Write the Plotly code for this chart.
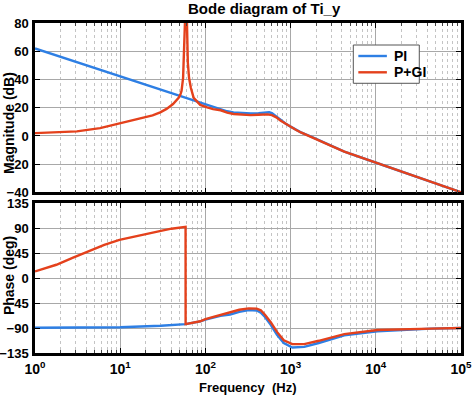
import plotly.graph_objects as go

# ---- data ----
# Magnitude, PI controller
pi_mag_f = [1, 2, 5, 10, 20, 50, 100, 130, 151, 180, 214, 270, 340, 420, 500, 560, 603, 680, 760,
            870, 1000, 1150, 1320, 1740, 2950, 4270, 10500, 31000, 100000]
pi_mag_db = [62, 56, 48, 42.2, 36.2, 28.2, 22.4, 20.0, 18.7, 17.5, 16.7, 16.2, 16.0, 16.2, 16.6, 16.8, 16.2, 13.8, 11.3,
             8.9, 6.6, 4.5, 2.6, -0.5, -6.8, -11, -19.3, -29.4, -39.8]

# Magnitude, P+GI controller
pgi_mag_f = [1, 1.78, 3.1, 5.8, 10, 14, 18.6, 24, 29.5, 35, 41.7, 45.5, 48.5, 51, 52.5, 54.7, 56.0, 57.1, 58.4, 59.2,
             59.8, 60.5, 61.2, 62.2, 64.3, 67.6, 72.8, 80, 87, 105, 123, 151, 180, 214, 270, 339, 420, 537, 603, 680,
             759, 870, 1000, 1150, 1320, 1740, 2950, 4270, 10500, 31000, 100000]
pgi_mag_db = [2.0, 2.4, 3.3, 5.6, 8.9, 10.8, 12.7, 14.6, 16.7, 19.2, 22.6, 24.8, 27, 29.5, 32, 41, 52, 65, 85, 110,
              110, 85, 65, 52, 41, 34, 27, 24, 22, 20.3, 19.0, 18.2, 16.6, 15.6, 15.0, 14.8, 15.0, 15.3, 14.8, 13.2,
              11.0, 8.7, 6.4, 4.4, 2.5, -0.5, -6.8, -11, -19.3, -29.4, -39.8]

# Phase, PI controller
pi_ph_f = [1, 3, 10, 30, 58.6, 87, 100, 150, 195, 250, 323, 400, 447, 500, 582, 692, 832, 1047, 1445, 2138,
           4266, 10470, 44700, 100000]
pi_ph_deg = [-89.5, -89.2, -88.5, -86, -83, -78, -75, -68, -65.6, -61, -57.7, -58.5, -62.4, -70, -83.8, -102, -117,
             -125, -124, -117, -103, -96, -91, -90]

# Phase, P+GI controller
pgi_ph_f = [1, 1.78, 2.8, 4.4, 6.5, 9.8, 14.5, 21.9, 30, 40, 53.7, 58.5, 58.6, 70, 87, 100, 150, 195, 250, 323,
            400, 447, 500, 582, 692, 832, 1047, 1445, 2138, 4266, 10470, 44700, 100000]
pgi_ph_deg = [12, 24, 37, 50, 60, 69, 75, 80, 85, 89, 92, 92.5, -83, -81, -77.8, -74, -66, -61, -57, -54.6,
              -55, -58, -66, -79, -97, -112, -119, -119, -113, -101, -93.6, -91, -90]

series_names = ["PI", "P+GI"]
x_tick_vals = [1, 10, 100, 1000, 10000, 100000]
x_tick_text = ["10<sup>0</sup>", "10<sup>1</sup>", "10<sup>2</sup>", "10<sup>3</sup>",
               "10<sup>4</sup>", "10<sup>5</sup>"]
x_minor_vals = [m * 10 ** d for d in range(5) for m in range(2, 10)]
mag_ticks = [80, 60, 40, 20, 0, -20, -40]
ph_ticks = [135, 90, 45, 0, -45, -90, -135]

BLUE = "#2e7fe4"
RED = "#e4411c"
FONT = "Liberation Sans Narrow, Arial Narrow, Liberation Sans, Arial, sans-serif"

fig = go.Figure()
fig.add_trace(go.Scatter(x=pi_mag_f, y=pi_mag_db, mode="lines", name=series_names[0],
                         line=dict(color=BLUE, width=2.4), xaxis="x", yaxis="y"))
fig.add_trace(go.Scatter(x=pgi_mag_f, y=pgi_mag_db, mode="lines", name=series_names[1],
                         line=dict(color=RED, width=2.4), xaxis="x", yaxis="y"))
fig.add_trace(go.Scatter(x=pi_ph_f, y=pi_ph_deg, mode="lines", name=series_names[0],
                         line=dict(color=BLUE, width=2.4), xaxis="x2", yaxis="y2"))
fig.add_trace(go.Scatter(x=pgi_ph_f, y=pgi_ph_deg, mode="lines", name=series_names[1],
                         line=dict(color=RED, width=2.4), xaxis="x2", yaxis="y2"))

common_x = dict(type="log", range=[0, 5], showline=True, linecolor="black", linewidth=2.5, mirror="ticks",
                ticks="inside", ticklen=5, tickcolor="black", tickwidth=1, automargin=False,
                tickvals=x_tick_vals, ticktext=x_tick_text,
                showgrid=True, gridcolor="#a8a8a8", gridwidth=1,
                minor=dict(tickvals=x_minor_vals, ticks="inside", ticklen=3, tickcolor="#444",
                           showgrid=True, gridcolor="#c4c4c4", griddash="dot", gridwidth=1),
                zeroline=False, fixedrange=True,
                tickfont=dict(family=FONT, size=14, color="black", weight="bold"))
common_y = dict(showline=True, linecolor="black", linewidth=2.5, mirror="ticks", automargin=False,
                ticks="inside", ticklen=5, tickcolor="black", showgrid=True, gridcolor="#a8a8a8",
                gridwidth=1, zeroline=False, ticklabelstandoff=1, fixedrange=True,
                tickfont=dict(family=FONT, size=13, color="black", weight="bold"))

# legend drawn as a compact MATLAB-style box (paper coordinates)
LEG_X0, LEG_X1, LEG_Y0, LEG_Y1 = 0.7472, 0.9021, 0.8173, 0.9333
LEG_ROWS = [0.9, 0.8506]
legend_shapes = [dict(type="rect", xref="paper", yref="paper", x0=LEG_X0, x1=LEG_X1, y0=LEG_Y0, y1=LEG_Y1,
                      fillcolor="white", line=dict(color="#555", width=1), layer="above")]
legend_texts = []
for name, col, yy in zip(series_names, [BLUE, RED], LEG_ROWS):
    legend_shapes.append(dict(type="line", xref="paper", yref="paper", x0=0.759, x1=0.826, y0=yy, y1=yy,
                              line=dict(color=col, width=2.4), layer="above"))
    legend_texts.append(dict(text=f"<b>{name}</b>", x=0.837, y=yy, xref="paper", yref="paper",
                             xanchor="left", yanchor="middle", showarrow=False,
                             font=dict(family=FONT, size=14, color="black")))

fig.update_layout(
    width=474, height=397,
    margin=dict(l=35, r=13, t=23, b=44, autoexpand=False),
    paper_bgcolor="white", plot_bgcolor="white",
    xaxis=dict(**common_x, domain=[0, 1], anchor="y", showticklabels=False),
    yaxis=dict(**common_y, domain=[0.4864, 1], range=[-40, 80], tickvals=mag_ticks, anchor="x"),
    xaxis2=dict(**common_x, domain=[0, 1], anchor="y2", showticklabels=True, ticklabelstandoff=1),
    yaxis2=dict(**common_y, domain=[0, 0.454], range=[-135, 135], tickvals=ph_ticks, anchor="x2"),
    showlegend=False,
    shapes=legend_shapes,
    annotations=legend_texts + [
        dict(text="<b>Bode diagram of Ti_y</b>", x=0.5376, y=1, xref="paper", yref="paper",
             yshift=4, xanchor="center", yanchor="bottom", showarrow=False,
             font=dict(family=FONT, size=15, color="black")),
        dict(text="<b>Magnitude (dB)</b>", x=0, y=0.697, xref="paper", yref="paper", xshift=-26,
             textangle=-90, xanchor="center", yanchor="middle", showarrow=False,
             font=dict(family=FONT, size=14, color="black")),
        dict(text="<b>Phase (deg)</b>", x=0, y=0.233, xref="paper", yref="paper", xshift=-26,
             textangle=-90, xanchor="center", yanchor="middle", showarrow=False,
             font=dict(family=FONT, size=14, color="black")),
        dict(text="<b>Frequency\u00a0 (Hz)</b>", x=0.499, y=0, xref="paper", yref="paper", yshift=-34,
             xanchor="center", yanchor="middle", showarrow=False,
             font=dict(family=FONT, size=13, color="black")),
    ],
)

# remove the browser's default 8px body margin so the figure fills the window exactly
fig.write_html("out.html", config={"displayModeBar": False},
               post_script="document.body.style.margin='0px';")
